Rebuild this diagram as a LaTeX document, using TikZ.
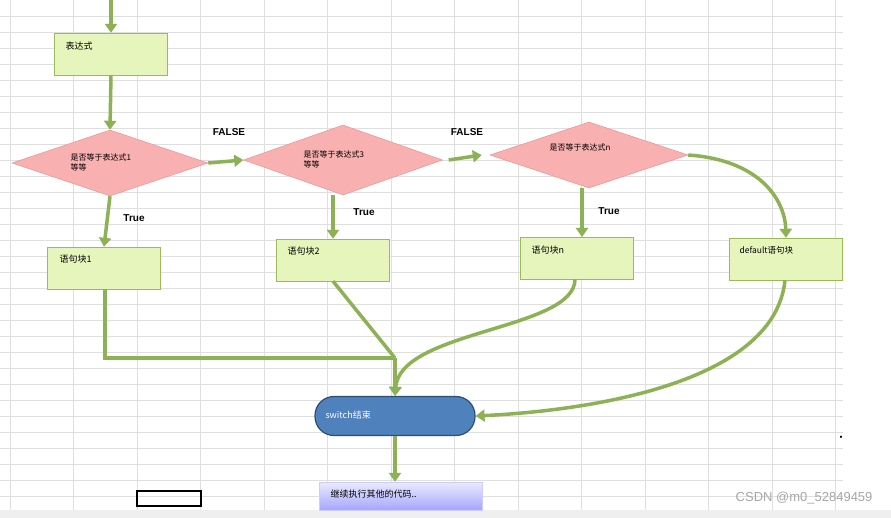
\documentclass[tikz,border=0pt]{standalone}
\usepackage{fontspec}
\setmainfont{Liberation Sans}
\newfontfamily\cjk{Noto Sans CJK SC}
\usetikzlibrary{shapes.geometric,arrows.meta}
\definecolor{gline}{HTML}{8DB255}
\definecolor{boxfill}{HTML}{E6F5BC}
\definecolor{boxedge}{HTML}{9BBB59}
\definecolor{dfill}{HTML}{F9B0B0}
\definecolor{dedge}{HTML}{E58A8A}
\definecolor{sfill}{HTML}{4F81BD}
\definecolor{sedge}{HTML}{2C4D75}
\begin{document}
\begin{tikzpicture}[x=1pt,y=-1pt,
  conn/.style={gline,line width=3.5pt,-{Triangle[length=9pt,width=12pt]}},
  seg/.style={gline,line width=3.5pt},
  blk/.style={draw=boxedge,fill=boxfill,minimum width=113pt,minimum height=42pt,inner sep=0pt},
  dia/.style={diamond,draw=dedge,fill=dfill,aspect=3,inner sep=0pt},
  lbl/.style={font=\bfseries\fontsize{10}{10}\selectfont}]
\useasboundingbox (0,0) rectangle (891,518);
\fill[white] (0,0) rectangle (891,518);
\foreach \y in {16,32,...,496} \draw[gray!25] (0,\y) -- (843,\y);
\foreach \x in {10,73.5,...,843} \draw[gray!25] (\x,0) -- (\x,510);
\fill[blue!5!gray!12] (0,510) rectangle (891,518);
% nodes
\node[blk] (expr) at (111,54) {};
\node[font=\cjk\fontsize{9}{9}\selectfont,anchor=north west] at (62,38) {表达式};
\node[dia,minimum width=196pt,minimum height=66pt] (d1) at (110,163) {};
\node[font=\cjk\fontsize{8}{10}\selectfont,align=left,anchor=north west] at (67,150) {是否等于表达式1\\等等};
\node[dia,minimum width=199pt,minimum height=70pt] (d2) at (343,160) {};
\node[font=\cjk\fontsize{8}{10}\selectfont,align=left,anchor=north west] at (300,147) {是否等于表达式3\\等等};
\node[dia,minimum width=198pt,minimum height=66pt] (d3) at (589,155) {};
\node[font=\cjk\fontsize{8}{10}\selectfont,anchor=north west] at (546,140) {是否等于表达式n};
\node[blk] (b1) at (104,268) {};
\node[font=\cjk\fontsize{9}{9}\selectfont,anchor=north west] at (56,251) {语句块1};
\node[blk] (b2) at (333,260) {};
\node[font=\cjk\fontsize{9}{9}\selectfont,anchor=north west] at (284,243) {语句块2};
\node[blk] (bn) at (577,258) {};
\node[font=\cjk\fontsize{9}{9}\selectfont,anchor=north west] at (528,242) {语句块n};
\node[blk] (bd) at (786,259) {};
\node[font=\cjk\fontsize{8.5}{9}\selectfont,anchor=north west] at (736,243) {default语句块};
\node[draw=sedge,line width=1.2pt,fill=sfill,rounded corners=19pt,minimum width=160pt,minimum height=39pt] (sw) at (395,416) {};
\node[font=\cjk\fontsize{9}{9}\selectfont,white,anchor=west] at (322,415) {switch结束};
\node[draw=blue!20,top color=blue!8,bottom color=blue!35,minimum width=163pt,minimum height=28pt] (cont) at (401,496) {};
\node[font=\cjk\fontsize{9}{9}\selectfont,anchor=west] at (327,494) {继续执行其他的代码..};
\draw[line width=1.3pt] (137,491) rectangle (201,506);
\node[font=\fontsize{4}{4}\selectfont] at (841,437) {■};
\node[gray!70,font=\fontsize{13}{13}\selectfont,anchor=east] at (876,498) {CSDN @m0\_52849459};
% labels
\node[lbl] at (229,132) {FALSE};
\node[lbl] at (467,132) {FALSE};
\node[lbl] at (134,218) {True};
\node[lbl] at (364,212) {True};
\node[lbl] at (609,211) {True};
% connectors
\coordinate (top) at (111,0);
\draw[conn] (top) -- (expr.north);
\draw[conn] (expr.south) -- (d1.north);
\draw[conn] (d1.east) -- (d2.west);
\draw[conn] ([xshift=6pt]d2.east) -- ([xshift=-8pt]d3.west);
\draw[conn] (d1.south) -- (b1.north);
\draw[conn] (d2.south -| 333,0) -- (b2.north);
\draw[conn] (d3.south -| 582,0) -- (582,237);
\draw[conn] (d3.east) .. controls (760,160) and (785,200) .. (bd.north);
\coordinate (j1) at (105,358);
\coordinate (j2) at (395,358);
\draw[seg] (b1.south -| 105,0) -- (j1) -- (j2);
\draw[seg] (b2.south) -- (j2);
\draw[conn] (j2) -- (sw.north);
\draw[conn] (bn.south -| 575,0) .. controls (575,330) and (400,330) .. (sw.north);
\draw[conn] (bd.south -| 785,0) .. controls (775,380) and (600,410) .. (sw.east);
\draw[conn] (sw.south) -- (cont.north -| sw.south);
\end{tikzpicture}
\end{document}
